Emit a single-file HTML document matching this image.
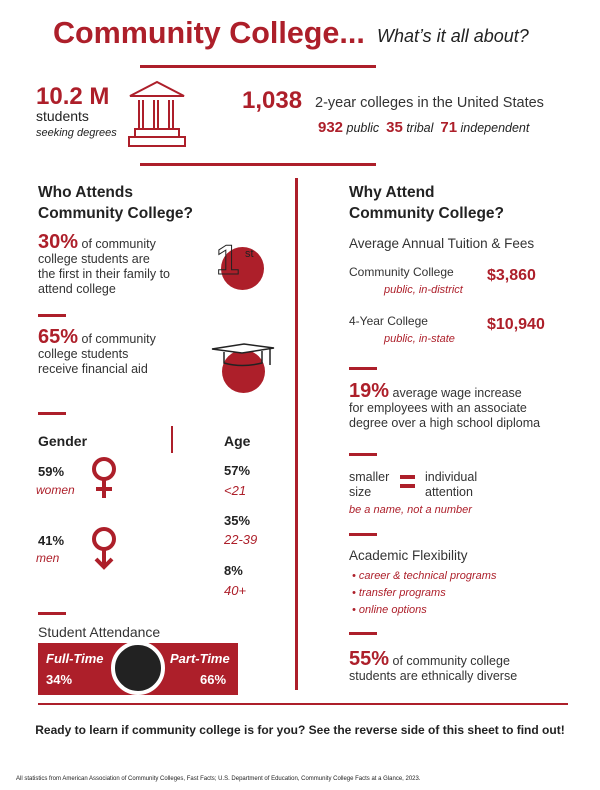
<!DOCTYPE html>
<html><head><meta charset="utf-8"><style>
body{margin:0;width:600px;height:790px;background:#fff;position:relative;overflow:hidden;font-family:"Liberation Sans",sans-serif;color:#222}
.a{position:absolute;white-space:nowrap}
.r{color:#ad1f2a}
.hand{font-family:"Liberation Sans Narrow","Liberation Sans",sans-serif;font-style:italic}
.bar{position:absolute;background:#ad1f2a}
.b{font-weight:bold}
</style></head><body>
<div class="a r b" style="left:53px;top:16px;font-size:30.5px">Community College...</div>
<div class="a hand" style="left:377px;top:26px;font-size:18px;color:#222">What’s it all about?</div>
<div class="bar" style="left:140px;top:65px;width:236px;height:3px"></div>
<div class="a r b" style="left:36px;top:83px;font-size:24px">10.2 M</div>
<div class="a" style="left:36px;top:108px;font-size:14px">students</div>
<div class="a hand" style="left:36px;top:127px;font-size:11px">seeking degrees</div>
<svg class="a" style="left:127px;top:80px" width="60" height="68" viewBox="0 0 60 68"><g fill="none" stroke="#ad1f2a" stroke-width="2"><path d="M3 16 L30 2 L57 16 Z"/><path d="M12 20v29M16 20v29M27 20v29M31 20v29M42 20v29M46 20v29"/><rect x="8" y="49" width="44" height="8"/><rect x="2" y="57" width="56" height="9"/></g></svg>
<div class="a r b" style="left:242px;top:87px;font-size:24px">1,038</div>
<div class="a" style="left:315px;top:95px;font-size:14.5px;color:#333">2-year colleges in the United States</div>
<div class="a" style="left:318px;top:119px;font-size:12.5px"><b class="r" style="font-size:15px">932</b> <span class="hand">public</span> &nbsp;<b class="r" style="font-size:15px">35</b> <span class="hand">tribal</span> &nbsp;<b class="r" style="font-size:15px">71</b> <span class="hand">independent</span></div>
<div class="bar" style="left:140px;top:163px;width:236px;height:3px"></div>

<div class="bar" style="left:295px;top:178px;width:3px;height:512px"></div>

<div class="a b" style="left:38px;top:182px;font-size:15.5px;line-height:21px">Who Attends<br>Community College?</div>
<div class="a" style="left:38px;top:235px;font-size:12.5px;line-height:15px;color:#333"><b class="r" style="font-size:20px">30%</b> of community<br>college students are<br>the first in their family to<br>attend college</div>
<div class="a" style="left:221px;top:247px;width:43px;height:43px;border-radius:50%;background:#ad1f2a"></div>
<div class="a" style="left:216px;top:238px;font-size:42px;font-weight:bold;color:transparent;-webkit-text-stroke:1px #222;line-height:44px">1</div>
<div class="a" style="left:245px;top:248px;font-size:11px;color:#222">st</div>
<div class="bar" style="left:38px;top:314px;width:28px;height:3px"></div>
<div class="a" style="left:38px;top:330px;font-size:12.5px;line-height:15px;color:#333"><b class="r" style="font-size:20px">65%</b> of community<br>college students<br>receive financial aid</div>
<div class="a" style="left:222px;top:350px;width:43px;height:43px;border-radius:50%;background:#ad1f2a"></div>
<svg class="a" style="left:210px;top:343px" width="66" height="30"><path d="M2 6 L34 1 L64 5 L32 10 Z" fill="#fff" stroke="#222" stroke-width="1.5"/><path d="M14 9 L14 20 Q32 25 52 20 L52 8" fill="none" stroke="#222" stroke-width="1.5"/><path d="M60 6 L60 22" stroke="#222" stroke-width="1.5"/></svg>
<div class="bar" style="left:38px;top:412px;width:28px;height:3px"></div>

<div class="a b" style="left:38px;top:433px;font-size:14px">Gender</div>
<div class="bar" style="left:171px;top:426px;width:2px;height:27px"></div>
<div class="a b" style="left:224px;top:433px;font-size:14px">Age</div>
<div class="a b" style="left:38px;top:464px;font-size:13px">59%</div>
<div class="a hand r" style="left:36px;top:483px;font-size:12px">women</div>
<svg class="a" style="left:90px;top:456px" width="30" height="44"><circle cx="14" cy="13" r="10" fill="none" stroke="#ad1f2a" stroke-width="4"/><path d="M14 23v19M6 33h16" stroke="#ad1f2a" stroke-width="4"/></svg>
<div class="a b" style="left:38px;top:533px;font-size:13px">41%</div>
<div class="a hand r" style="left:36px;top:551px;font-size:12px">men</div>
<svg class="a" style="left:90px;top:526px" width="30" height="44"><circle cx="14" cy="13" r="10" fill="none" stroke="#ad1f2a" stroke-width="4"/><path d="M14 23v17M6 33l8 8 8-8" fill="none" stroke="#ad1f2a" stroke-width="4"/></svg>
<div class="a b" style="left:224px;top:463px;font-size:13px">57%</div>
<div class="a hand r" style="left:224px;top:483px;font-size:13px">&lt;21</div>
<div class="a b" style="left:224px;top:513px;font-size:13px">35%</div>
<div class="a hand r" style="left:224px;top:532px;font-size:13px">22-39</div>
<div class="a b" style="left:224px;top:563px;font-size:13px">8%</div>
<div class="a hand r" style="left:224px;top:583px;font-size:13px">40+</div>
<div class="bar" style="left:38px;top:612px;width:28px;height:3px"></div>
<div class="a" style="left:38px;top:624px;font-size:14px;color:#333">Student Attendance</div>
<div class="bar" style="left:38px;top:643px;width:200px;height:52px"></div>
<div class="a" style="left:111px;top:641px;width:54px;height:54px;border-radius:50%;background:#222;border:4px solid #fff;box-sizing:border-box"></div>
<div class="a hand b" style="left:46px;top:651px;font-size:13px;color:#fff">Full-Time</div>
<div class="a b" style="left:46px;top:672px;font-size:13px;color:#fff">34%</div>
<div class="a hand b" style="left:170px;top:651px;font-size:13px;color:#fff">Part-Time</div>
<div class="a b" style="left:200px;top:672px;font-size:13px;color:#fff">66%</div>

<div class="a b" style="left:349px;top:182px;font-size:15.5px;line-height:21px">Why Attend<br>Community College?</div>
<div class="a" style="left:349px;top:236px;font-size:13.5px;color:#333">Average Annual Tuition &amp; Fees</div>
<div class="a" style="left:349px;top:265px;font-size:12px;color:#333">Community College</div>
<div class="a hand r" style="left:384px;top:284px;font-size:11px">public, in-district</div>
<div class="a r b" style="left:487px;top:267px;font-size:16px">$3,860</div>
<div class="a" style="left:349px;top:314px;font-size:12px;color:#333">4-Year College</div>
<div class="a hand r" style="left:384px;top:333px;font-size:11px">public, in-state</div>
<div class="a r b" style="left:487px;top:316px;font-size:16px">$10,940</div>
<div class="bar" style="left:349px;top:367px;width:28px;height:3px"></div>
<div class="a" style="left:349px;top:384px;font-size:12.5px;line-height:15px;color:#333"><b class="r" style="font-size:20px">19%</b> average wage increase<br>for employees with an associate<br>degree over a high school diploma</div>
<div class="bar" style="left:349px;top:453px;width:28px;height:3px"></div>
<div class="a" style="left:349px;top:470px;font-size:12.5px;line-height:15px;color:#333">smaller<br>size</div>
<div class="bar" style="left:400px;top:475px;width:15px;height:4px"></div>
<div class="bar" style="left:400px;top:484px;width:15px;height:4px"></div>
<div class="a" style="left:425px;top:470px;font-size:12.5px;line-height:15px;color:#333">individual<br>attention</div>
<div class="a hand r" style="left:349px;top:504px;font-size:11px">be a name, not a number</div>
<div class="bar" style="left:349px;top:533px;width:28px;height:3px"></div>
<div class="a" style="left:349px;top:548px;font-size:13.5px;color:#333">Academic Flexibility</div>
<div class="a hand r" style="left:352px;top:568px;font-size:11px;line-height:17px">• career &amp; technical programs<br>• transfer programs<br>• online options</div>
<div class="bar" style="left:349px;top:632px;width:28px;height:3px"></div>
<div class="a" style="left:349px;top:652px;font-size:12.5px;line-height:15px;color:#333"><b class="r" style="font-size:20px">55%</b> of community college<br>students are ethnically diverse</div>

<div class="bar" style="left:38px;top:703px;width:530px;height:2px"></div>
<div class="a b" style="left:0;width:600px;text-align:center;top:723px;font-size:12px">Ready to learn if community college is for you? See the reverse side of this sheet to find out!</div>
<div class="a" style="left:16px;top:776px;font-size:6px">All statistics from American Association of Community Colleges, Fast Facts; U.S. Department of Education, Community College Facts at a Glance, 2023.</div>
</body></html>
